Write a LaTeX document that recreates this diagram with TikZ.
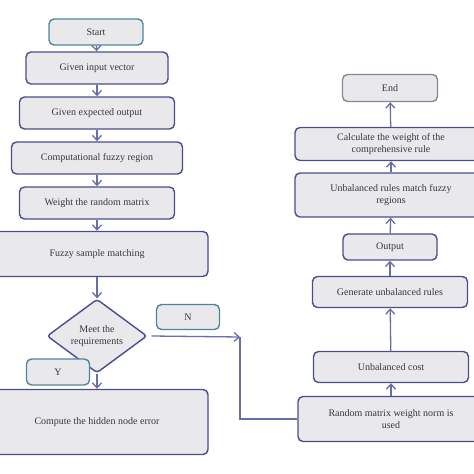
\documentclass[tikz,border=0pt]{standalone}
\usepackage{fontspec}
\setmainfont{Liberation Serif}
\usepackage{tikz}
\usetikzlibrary{arrows.meta, positioning, shapes.geometric, calc}
\definecolor{boxline}{RGB}{72,78,140}
\definecolor{arrline}{RGB}{104,110,166}
\definecolor{boxfill}{RGB}{233,233,236}
\definecolor{tagline}{RGB}{80,132,156}
\definecolor{endline}{RGB}{135,135,150}
\definecolor{txt}{RGB}{55,55,60}

\begin{document}
\begin{tikzpicture}[
  x=1pt, y=-1pt,
  procbox/.style  = {draw=boxline, line width=1.4pt, rounded corners=5pt, fill=boxfill,
                     align=center, text=txt, font=\fontsize{10}{12.5}\selectfont,
                     inner sep=0pt},
  tagbox/.style   = {procbox, draw=tagline},
  decision/.style = {diamond, draw=boxline, line width=1.4pt, fill=boxfill, align=center,
                     text=txt, font=\fontsize{10}{12.5}\selectfont, inner sep=0pt,
                     minimum width=100pt, minimum height=60pt, rounded corners=3pt},
  arr/.style      = {-{Straight Barb[length=5pt,width=9pt]}, line width=1.3pt, color=arrline},
  link/.style     = {line width=1.3pt, color=arrline}
]
\useasboundingbox (0,0) rectangle (474,474);
\clip (0,0) rectangle (474,474);

% left column
\node[tagbox, minimum width=94pt, minimum height=26pt]   (start)    at (96,32)   {Start};
\node[procbox, minimum width=142pt, minimum height=32pt] (input)    at (97,68)   {Given input vector};
\node[procbox, minimum width=155pt, minimum height=32pt] (expect)   at (97,113)  {Given expected output};
\node[procbox, minimum width=171pt, minimum height=32pt] (region)   at (97,158)  {Computational fuzzy region};
\node[procbox, minimum width=155pt, minimum height=32pt] (weight)   at (97,203)  {Weight the random matrix};
\node[procbox, minimum width=222pt, minimum height=45pt] (match)    at (97,254)  {Fuzzy sample matching};
\node[decision]                                          (meet)     at (97,336)  {Meet the\\requirements};
\node[procbox, minimum width=222pt, minimum height=65pt] (hidden)   at (97,422)  {Compute the hidden node error};
\node[tagbox, minimum width=63pt, minimum height=25pt]   (nolbl)    at (188,317) {N};
\node[tagbox, minimum width=63pt, minimum height=26pt]   (yeslbl)   at (58,372)  {Y};

% right column
\node[procbox, draw=endline, minimum width=95pt, minimum height=27pt] (stop) at (390,88) {End};
\node[procbox, minimum width=192pt, minimum height=33pt] (calc)     at (391,144) {Calculate the weight of the\\comprehensive rule};
\node[procbox, minimum width=192pt, minimum height=44pt] (rulematch) at (391,195) {Unbalanced rules match fuzzy\\regions};
\node[procbox, minimum width=94pt, minimum height=26pt]  (output)   at (390,247) {Output};
\node[procbox, minimum width=155pt, minimum height=31pt] (genrules) at (390,292) {Generate unbalanced rules};
\node[procbox, minimum width=155pt, minimum height=31pt] (cost)     at (391,367) {Unbalanced cost};
\node[procbox, minimum width=186pt, minimum height=45pt] (norm)     at (391,419) {Random matrix weight norm is\\used};

\coordinate (njoin) at (240,337);

\draw[arr] (start) -- (input);
\draw[arr] (input) -- (expect);
\draw[arr] (expect) -- (region);
\draw[arr] (region) -- (weight);
\draw[arr] (weight) -- (match);
\draw[arr] (match) -- (meet);
\draw[arr] (meet) -- (hidden);
\draw[arr] ($(meet.east)+(4,0)$) -- (njoin);
\draw[link] (njoin) |- (norm.west);
\draw[arr] (norm) -- (cost);
\draw[arr] (cost) -- (genrules);
\draw[arr] (genrules) -- (output);
\draw[arr] (output) -- (rulematch);
\draw[arr] (rulematch) -- (calc);
\draw[arr] (calc) -- (stop);
\end{tikzpicture}
\end{document}
